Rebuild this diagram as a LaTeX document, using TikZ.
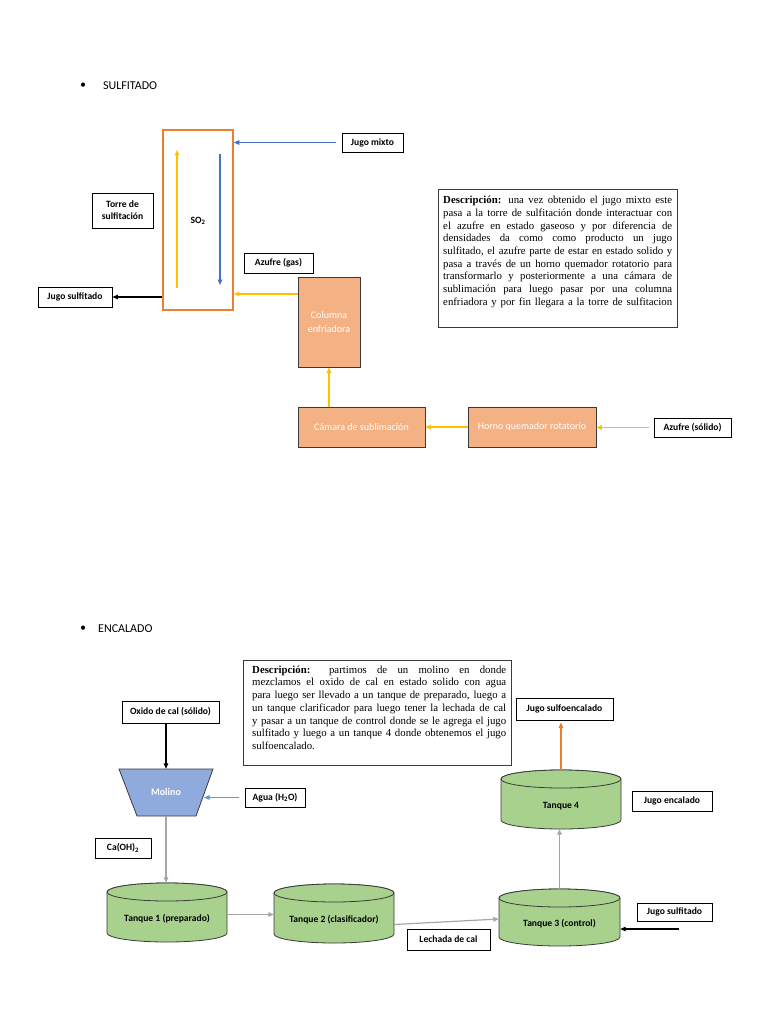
\documentclass[tikz,border=0pt]{standalone}
\usepackage{fontspec}
\setmainfont{Liberation Serif}
\newfontfamily\calfont{Carlito}
\usetikzlibrary{arrows.meta}
\definecolor{towerorange}{HTML}{ED7D31}
\definecolor{salmon}{HTML}{F4B183}
\definecolor{flowyellow}{HTML}{FFC000}
\definecolor{flowblue}{HTML}{4472C4}
\definecolor{lightblue}{HTML}{5B9BD5}
\definecolor{molblue}{HTML}{8FAADC}
\definecolor{tankgreen}{HTML}{A9D18E}
\definecolor{flowgray}{HTML}{A6A6A6}
\definecolor{edgedark}{HTML}{3A3A3A}
\newcommand\ja[1]{\makebox[229pt][s]{#1}}
\newcommand\jb[1]{\makebox[254pt][s]{#1}}
\newcommand\tank[6]{%
  \pgfmathsetmacro\tkrx{(#3-#2)/2}%
  \pgfmathsetmacro\tkcx{(#2+#3)/2}%
  \pgfmathsetmacro\tkcy{(#4+#5)/2}%
  \pgfmathsetmacro\tkw{#3-#2}%
  \pgfmathsetmacro\tkh{#5-#4}%
  \filldraw[tankstyle] (#2,#4+9) -- (#2,#5-9) arc[start angle=180, end angle=360, x radius=\tkrx pt, y radius=9pt] -- (#3,#4+9) arc[start angle=0, end angle=180, x radius=\tkrx pt, y radius=9pt] -- cycle;
  \draw[tankstyle] (\tkcx,#4+9) ellipse[x radius=\tkrx pt, y radius=9pt];
  \node[minimum width=\tkw pt, minimum height=\tkh pt, inner sep=0pt] (#1) at (\tkcx,\tkcy) {};
  \node[tanktext] (#1t) at (\tkcx,{(#4+#5+9)/2+2}) {#6};
}
\begin{document}
\begin{tikzpicture}[x=1pt,y=-1pt,
  lbl/.style={draw=black, line width=0.8pt, fill=white, inner sep=0pt, font=\calfont\bfseries\fontsize{9.6}{12}\selectfont, align=center},
  procbox/.style={draw=edgedark, line width=0.8pt, fill=salmon, inner sep=0pt, text=white, font=\calfont\fontsize{10}{14}\selectfont, align=center},
  descbox/.style={draw=edgedark, line width=1pt, fill=white, inner sep=0pt},
  desctext/.style={inner sep=0pt, anchor=north west, align=left, font=\fontsize{10.8}{12.7}\selectfont},
  tankstyle/.style={draw=edgedark, line width=0.8pt, fill=tankgreen},
  tanktext/.style={inner sep=0pt, font=\calfont\bfseries\fontsize{9.6}{12}\selectfont},
  sectitle/.style={inner sep=0pt, anchor=west, font=\calfont\fontsize{12}{14}\selectfont},
  arr/.style={-{Triangle[length=5.5pt,width=4.5pt]}},
  fy/.style={arr, draw=flowyellow, line width=1.2pt},
  fb/.style={arr, draw=flowblue, line width=1.2pt},
  fl/.style={arr, draw=lightblue, line width=1.2pt},
  fk/.style={arr, draw=black, line width=1.2pt},
  fg/.style={arr, draw=flowgray, line width=1.2pt},
  fo/.style={arr, draw=towerorange, line width=1.2pt}
]
\useasboundingbox (0,0) rectangle (768,1024);
\fill[white] (0,0) rectangle (768,1024);

% ---------------- SULFITADO ----------------
\node[inner sep=0pt, font=\calfont\fontsize{12}{14}\selectfont] (b1) at (83,86) {•};
\node[sectitle] (s1) at (103,86) {SULFITADO};

\node[draw=towerorange, line width=1.6pt, fill=white, minimum width=70pt, minimum height=180pt, inner sep=0pt] (tower) at (198,220) {};
\node[inner sep=0pt, font=\calfont\bfseries\fontsize{9.6}{12}\selectfont] (so2) at (198,221) {SO\textsubscript{2}};

\node[lbl, minimum width=61pt, minimum height=19pt] (jmix) at (372.5,142.5) {Jugo mixto};
\node[lbl, minimum width=61pt, minimum height=35pt] (torre) at (122.5,210.5) {Torre de\\sulfitación};
\node[lbl, minimum width=69pt, minimum height=20pt] (azgas) at (278.5,263) {Azufre (gas)};
\node[lbl, minimum width=74pt, minimum height=20pt] (jsulf1) at (75,297) {Jugo sulfitado};
\node[lbl, minimum width=77pt, minimum height=19pt] (azsol) at (692.5,427.5) {Azufre (sólido)};

\node[procbox, minimum width=62pt, minimum height=90pt] (col) at (329,322) {Columna\\enfriadora};
\node[procbox, minimum width=127pt, minimum height=40pt] (cam) at (361.5,427) {Cámara de sublimación};
\node[procbox, minimum width=128pt, minimum height=40pt] (horno) at (532,427) {Horno quemador rotatorio};

\node[descbox, minimum width=239pt, minimum height=137pt] (desc1) at (557.5,258.5) {};
\node[desctext] (desc1t) at (443,196) {%
\ja{\textbf{Descripción:} una vez obtenido el jugo mixto este}\\
\ja{pasa a la torre de sulfitación donde interactuar con}\\
\ja{el azufre en estado gaseoso y por diferencia de}\\
\ja{densidades da como como producto un jugo}\\
\ja{sulfitado, el azufre parte de estar en estado solido y}\\
\ja{pasa a través de un horno quemador rotatorio para}\\
\ja{transformarlo y posteriormente a una cámara de}\\
\ja{sublimación para luego pasar por una columna}\\
\ja{enfriadora y por fin llegara a la torre de sulfitacion}};

\coordinate (yA) at (177,288);
\coordinate (yB) at (177,150);
\coordinate (bA) at (220,154);
\coordinate (bB) at (220,285);
\draw[fy] (yA) -- (yB);
\draw[fb] (bA) -- (bB);
\draw[fb, shorten <=6pt] (jmix.west) -- (jmix.west -| tower.east);
\coordinate (colA) at ([yshift=28pt]col.west);
\draw[fy] (colA) -- (colA -| tower.east);
\draw[fk] (tower.west |- jsulf1.east) -- (jsulf1.east);
\draw[fy] (col.south |- cam.north) -- (col.south);
\draw[fy] (horno.west) -- (horno.west -| cam.east);
\draw[fy, shorten <=5pt] (azsol.west) -- (azsol.west -| horno.east);

% ---------------- ENCALADO ----------------
\node[inner sep=0pt, font=\calfont\fontsize{12}{14}\selectfont] (b2) at (83,629) {•};
\node[sectitle] (s2) at (98,629) {ENCALADO};

\node[descbox, minimum width=268pt, minimum height=105pt] (desc2) at (377,712.5) {};
\node[desctext] (desc2t) at (252,665.5) {%
\jb{\textbf{Descripción:} partimos de un molino en donde}\\
\jb{mezclamos el oxido de cal en estado solido con agua}\\
\jb{para luego ser llevado a un tanque de preparado, luego a}\\
\jb{un tanque clarificador para luego tener la lechada de cal}\\
\jb{y pasar a un tanque de control donde se le agrega el jugo}\\
\jb{sulfitado y luego a un tanque 4 donde obtenemos el jugo}\\
sulfoencalado.};

\node[lbl, minimum width=97pt, minimum height=22pt] (oxido) at (170.5,712) {Oxido de cal (sólido)};
\node[lbl, minimum width=60pt, minimum height=19pt] (agua) at (275,797.5) {Agua (H\textsubscript{2}O)};
\node[lbl, minimum width=56pt, minimum height=20pt] (caoh) at (123,848) {Ca(OH)\textsubscript{2}};
\node[lbl, minimum width=83pt, minimum height=21pt] (lechada) at (448.5,939.5) {Lechada de cal};
\node[lbl, minimum width=75pt, minimum height=18pt] (jsulf2) at (674.5,912) {Jugo sulfitado};
\node[lbl, minimum width=80pt, minimum height=20pt] (jenc) at (672,801) {Jugo encalado};
\node[lbl, minimum width=97pt, minimum height=22pt] (jsoenc) at (564.5,709) {Jugo sulfoencalado};

\filldraw[draw=edgedark, line width=0.8pt, fill=molblue] (119,769) -- (213,769) -- (196,816) -- (137,816) -- cycle;
\node[minimum width=94pt, minimum height=47pt, inner sep=0pt, text=white, font=\calfont\bfseries\fontsize{10}{12}\selectfont] (molino) at (166,792.5) {Molino};
\coordinate (molR) at (204,797.5);

\tank{t1}{107}{227}{883}{942}{Tanque 1 (preparado)}
\tank{t2}{274}{394}{884}{943}{Tanque 2 (clasificador)}
\tank{t3}{499}{620}{889}{946}{Tanque 3 (control)}
\tank{t4}{501}{621}{770}{829}{Tanque 4}

\draw[fk] (molino.north |- oxido.south) -- (molino.north);
\draw[fl, shorten <=6pt] (agua.west) -- (molR);
\draw[fg] (molino.south) -- (molino.south |- t1.north);
\draw[fg] ([yshift=-2pt]t1.east) -- ([yshift=-2pt]t1.east -| t2.west);
\draw[fg] ([yshift=-11pt]t2.east) -- ([yshift=-1.5pt]t3.west);
\draw[fg] (t3.north) -- (t3.north |- t4.south);
\draw[fo, shorten >=2pt] (t4.north) -- (t4.north |- jsoenc.south);
\coordinate (js2) at (679,929);
\draw[fk] (js2) -- (js2 -| t3.east);
\end{tikzpicture}
\end{document}
